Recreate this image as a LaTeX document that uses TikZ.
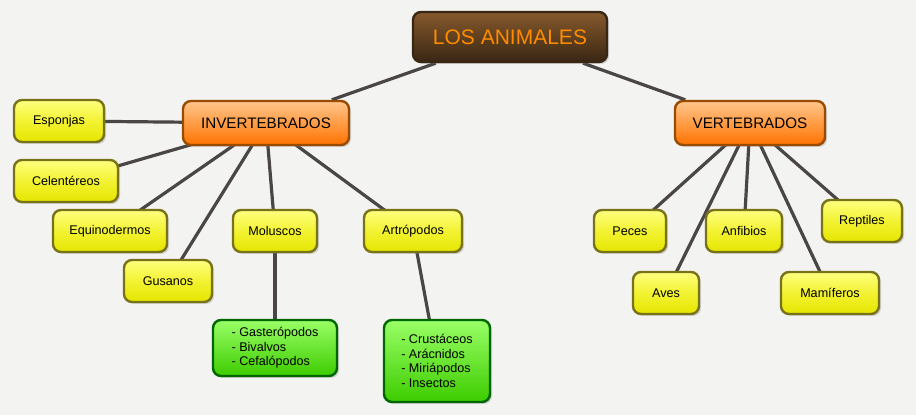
\documentclass[tikz,border=0pt]{standalone}
\usepackage{fontspec}
\setmainfont{Liberation Sans}
\usetikzlibrary{backgrounds,shadows}
\definecolor{bg}{HTML}{F3F3F1}
\definecolor{ln}{HTML}{4A4546}
\tikzset{
 base/.style={rounded corners=4pt,line width=1.2pt,drop shadow={shadow xshift=1pt,shadow yshift=-1pt,opacity=0.3},align=center},
 yel/.style={base,draw=olive!80!black,top color=yellow!50!white,bottom color=yellow!80!olive,minimum height=21pt,font=\fontsize{6.3}{7.5}\selectfont},
 grn/.style={base,draw=green!40!black,top color=green!55!lime!60!white,bottom color=green!60!lime!80!black,font=\fontsize{6.3}{7.2}\selectfont,align=left},
 org/.style={base,draw=orange!60!black,top color=orange!45!white,bottom color=orange!90!red,minimum height=22pt,font=\fontsize{7.6}{9}\selectfont},
 edge/.style={draw=ln,line width=1.6pt}
}
\begin{document}
\begin{tikzpicture}[x=0.5pt,y=-0.5pt]
\useasboundingbox (0,0) rectangle (916,415);
\node[base,draw=black!70!brown,top color=brown!70!black,bottom color=black!70!brown,text=orange!90!yellow,minimum width=97pt,minimum height=25pt,font=\fontsize{10.5}{12}\selectfont] (root) at (510,37) {LOS ANIMALES};
\node[org,minimum width=83pt] (inv) at (266,123) {INVERTEBRADOS};
\node[org,minimum width=75pt] (ver) at (750,123) {VERTEBRADOS};
\node[yel,minimum width=45pt] (esp) at (59,121) {Esponjas};
\node[yel,minimum width=52pt] (cel) at (66,181) {Celentéreos};
\node[yel,minimum width=57pt] (equ) at (110,231) {Equinodermos};
\node[yel,minimum width=44pt] (gus) at (168,281) {Gusanos};
\node[yel,minimum width=42pt] (mol) at (275,231) {Moluscos};
\node[yel,minimum width=49pt] (art) at (413,231) {Artrópodos};
\node[grn,minimum width=62pt,minimum height=28pt] (gas) at (275,348) {- Gasterópodos\\- Bivalvos\\- Cefalópodos};
\node[grn,minimum width=53pt,minimum height=41pt] (cru) at (437,361) {- Crustáceos\\- Arácnidos\\- Miriápodos\\- Insectos};
\node[yel,minimum width=36pt] (pec) at (630,231) {Peces};
\node[yel,minimum width=33pt] (ave) at (666,293) {Aves};
\node[yel,minimum width=38pt] (anf) at (744,231) {Anfibios};
\node[yel,minimum width=49pt] (mam) at (830,293) {Mamíferos};
\node[yel,minimum width=40pt] (rep) at (862,221) {Reptiles};
\begin{scope}[on background layer]
\fill[bg] (0,0) rectangle (916,415);
\draw[edge] (root) -- (inv);
\draw[edge] (root) -- (ver);
\draw[edge] (inv.center) -- (esp.center);
\foreach \n in {cel,equ,gus,mol,art} \draw[edge] (inv.center) -- (\n.center);
\draw[edge] (mol.center) -- (gas.center);
\draw[edge] (art.center) -- (cru.center);
\foreach \n in {pec,ave,anf,mam,rep} \draw[edge] (ver.center) -- (\n.center);
\end{scope}
\end{tikzpicture}
\end{document}
